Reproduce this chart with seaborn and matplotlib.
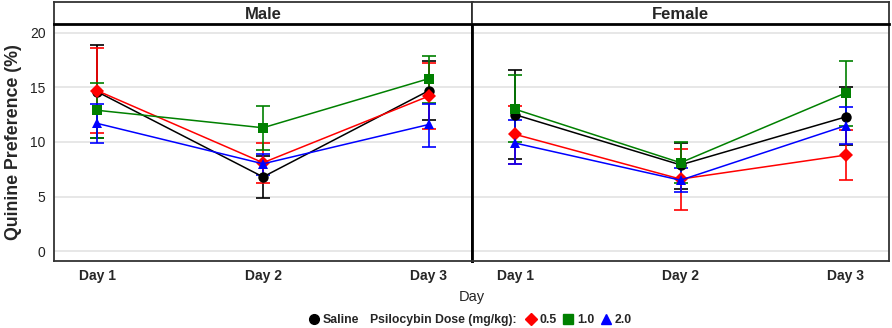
import numpy as np
import pandas as pd
import seaborn as sns
import matplotlib.pyplot as plt
from matplotlib.lines import Line2D

# values (mean, upper and lower error ends)
days = ["Day 1", "Day 2", "Day 3"]
groups = ["Saline", "0.5", "1.0", "2.0"]
sexes = ["Male", "Female"]

male_mean = {"Saline": [14.6, 6.8, 14.7], "0.5": [14.7, 8.1, 14.2],
             "1.0": [12.9, 11.3, 15.8], "2.0": [11.7, 8.0, 11.6]}
male_hi = {"Saline": [18.9, 8.7, 17.4], "0.5": [18.6, 9.9, 17.2],
           "1.0": [15.4, 13.3, 17.9], "2.0": [13.5, 8.9, 13.5]}
male_lo = {"Saline": [10.4, 4.9, 12.0], "0.5": [10.8, 6.2, 11.2],
           "1.0": [10.4, 9.3, 13.6], "2.0": [9.9, 7.0, 9.5]}

female_mean = {"Saline": [12.5, 7.9, 12.3], "0.5": [10.7, 6.6, 8.8],
               "1.0": [13.0, 8.1, 14.5], "2.0": [9.9, 6.5, 11.5]}
female_hi = {"Saline": [16.6, 9.9, 15.0], "0.5": [13.3, 9.4, 11.1],
             "1.0": [16.1, 10.0, 17.4], "2.0": [12.0, 7.6, 13.2]}
female_lo = {"Saline": [8.4, 5.7, 9.7], "0.5": [8.0, 3.8, 6.5],
             "1.0": [10.0, 6.2, 11.5], "2.0": [8.0, 5.4, 9.8]}

colors = {"Saline": "black", "0.5": "#FF0000", "1.0": "#008000", "2.0": "#0000FF"}
markers = {"Saline": "o", "0.5": "D", "1.0": "s", "2.0": "^"}

rows = []
for sex, mean, hi, lo in [("Male", male_mean, male_hi, male_lo),
                          ("Female", female_mean, female_hi, female_lo)]:
    for g in groups:
        for i, d in enumerate(days):
            rows.append({"Sex": sex, "Group": g, "DayIdx": i, "Day": d,
                         "Pref": mean[g][i], "Hi": hi[g][i], "Lo": lo[g][i]})
df = pd.DataFrame(rows)

sns.set_theme(style="white")
plt.rcParams['font.family'] = ['Liberation Sans', 'DejaVu Sans']

fig = plt.figure(figsize=(8.92, 3.28), dpi=100)
W, H = 892, 328
left, mid, right = 54, 472, 889
top, bottom, strip_top = 24, 261, 2

for k, (x0, x1) in enumerate([(left, mid), (mid, right)]):
    ax = fig.add_axes([x0 / W, 1 - bottom / H, (x1 - x0) / W, (bottom - top) / H])
    sub = df[df["Sex"] == sexes[k]]
    for g in groups:
        gd = sub[sub["Group"] == g]
        ax.errorbar(gd["DayIdx"], gd["Pref"],
                    yerr=[gd["Pref"] - gd["Lo"], gd["Hi"] - gd["Pref"]],
                    fmt="none", ecolor=colors[g], elinewidth=1.2, capsize=5,
                    capthick=1.2, zorder=2)
    sns.lineplot(data=sub, x="DayIdx", y="Pref", hue="Group", style="Group",
                 hue_order=groups, style_order=groups, palette=colors,
                 markers=markers, dashes=False, markersize=7.5,
                 markeredgewidth=0, linewidth=1.1, legend=False, ax=ax, zorder=3)
    ax.set_xlim(-0.26, 2.26)
    ax.set_ylim(-0.9, 20.8)
    ax.set_yticks([0, 5, 10, 15, 20])
    ax.set_xticks([0, 1, 2])
    ax.set_xticklabels(days, fontweight="bold", fontsize=10)
    ax.grid(axis="y", color="#E3E3E3", linewidth=1.2)
    ax.set_axisbelow(True)
    ax.set_xlabel("")
    ax.set_ylabel("")
    ax.tick_params(axis="both", length=0, pad=6)
    for s in ax.spines.values():
        s.set_color("#333333")
        s.set_linewidth(1.3)
    if k == 0:
        ax.tick_params(axis="y", labelsize=10, labelcolor="#222222")
        ax.spines["right"].set_color("black")
        ax.spines["right"].set_linewidth(2)
    else:
        ax.tick_params(axis="y", labelleft=False)
        ax.spines["left"].set_color("black")
        ax.spines["left"].set_linewidth(2)

    # facet strip
    sax = fig.add_axes([x0 / W, 1 - top / H, (x1 - x0) / W, (top - strip_top) / H])
    sax.set_xticks([])
    sax.set_yticks([])
    sax.set_facecolor("white")
    for s in sax.spines.values():
        s.set_color("#333333")
        s.set_linewidth(1.3)
    sax.spines["bottom"].set_color("black")
    sax.spines["bottom"].set_linewidth(2)
    if k == 0:
        sax.spines["right"].set_color("black")
        sax.spines["right"].set_linewidth(2)
    sax.text(0.5, 0.45, sexes[k], ha="center", va="center", fontsize=12,
             fontweight="bold", transform=sax.transAxes)

fig.text(14 / W, 1 - 142 / H, "Quinine Preference (%)", rotation=90, ha="center",
         va="center", fontsize=12.8, fontweight="bold")
fig.text(472 / W, 1 - 297 / H, "Day", ha="center", va="center", fontsize=10.5)

# legend: saline | dose title | doses
prop = {"weight": "bold", "size": 8.8}
legy = 1 - 320 / H
h_sal = [Line2D([], [], color=colors["Saline"], marker="o", linestyle="none", markersize=7)]
fig.legend(h_sal, ["Saline"], loc="center left", bbox_to_anchor=(309 / W, legy),
           frameon=False, handlelength=0.8, handletextpad=0.3, borderpad=0,
           borderaxespad=0, prop=prop)
fig.text(370 / W, legy, "Psilocybin Dose (mg/kg):", ha="left", va="center",
         fontsize=8.8, fontweight="bold")
h_dose = [Line2D([], [], color=colors[g], marker=markers[g], linestyle="none",
                 markersize={"0.5": 6, "1.0": 6.5, "2.0": 7}[g]) for g in groups[1:]]
fig.legend(h_dose, groups[1:], loc="center left", bbox_to_anchor=(526 / W, legy),
           ncol=3, frameon=False, handlelength=0.8, handletextpad=0.3,
           columnspacing=0.55, borderpad=0, borderaxespad=0, prop=prop)

fig.savefig("out.png", dpi=100)
